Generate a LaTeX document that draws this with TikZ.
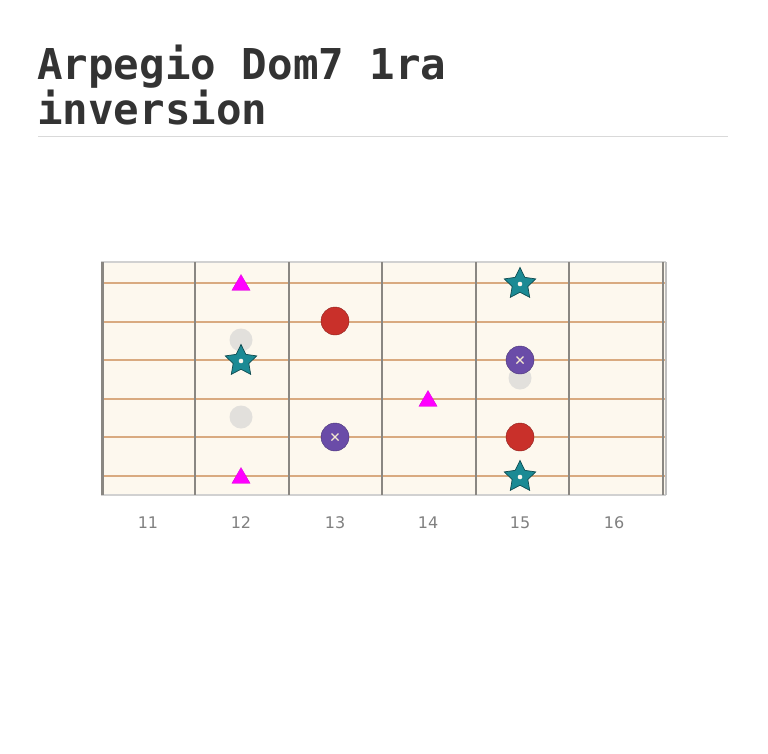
\documentclass[tikz,border=0pt]{standalone}
\usepackage{fontspec}
\setmonofont{DejaVu Sans Mono}
\setsansfont{DejaVu Sans}
\usetikzlibrary{shapes.geometric}

\definecolor{board}{HTML}{FDF8EE}
\definecolor{wire}{HTML}{D9AA80}
\definecolor{fretgray}{HTML}{8A8782}
\definecolor{rootred}{HTML}{C9302A}
\definecolor{sevpurple}{HTML}{6A4CA8}
\definecolor{fifteal}{HTML}{1B8A94}
\definecolor{inlay}{HTML}{E2E0DC}
\definecolor{thirdpink}{HTML}{FF00FF}
\definecolor{crosscol}{HTML}{F4E9CF}

\tikzset{
    triad/.style={regular polygon, regular polygon sides=3, fill=thirdpink, draw=thirdpink!85!black, line width=0.3pt, minimum size=21pt, inner sep=0pt},
    fifth/.style={star, star points=5, star point ratio=2, fill=fifteal, draw=fifteal!55!black, line width=0.7pt, minimum size=33pt, inner sep=0pt},
    root/.style={circle, fill=rootred, draw=rootred!70!black, line width=0.4pt, minimum size=28pt, inner sep=0pt},
    seventh/.style={circle, fill=sevpurple, draw=sevpurple!70!black, line width=0.4pt, minimum size=28pt, inner sep=0pt},
    dot/.style={circle, fill=inlay, minimum size=23pt, inner sep=0pt},
    fretnum/.style={font=\sffamily\fontsize{16}{16}\selectfont, text=gray}
}

\begin{document}
\begin{tikzpicture}[x=1pt, y=-1pt]
    \pgfmathsetmacro\l{101};
    \pgfmathsetmacro\r{666};
    \pgfmathsetmacro\t{262};
    \pgfmathsetmacro\b{495};
    \pgfmathsetmacro\s{38.6};

    \fill[white] (0, 0) rectangle (768, 753);
    \useasboundingbox (0, 0) rectangle (768, 753);

    % title
    \node[anchor=base west, inner sep=0pt, text=black!80, font=\ttfamily\bfseries\fontsize{42.5}{45}\selectfont] (title1) at (37, 79) {Arpegio Dom7 1ra};
    \node[anchor=base west, inner sep=0pt, text=black!80, font=\ttfamily\bfseries\fontsize{42.5}{45}\selectfont] (title2) at (37, 124) {inversion};
    \draw[black!15, line width=1pt] (38, 136) -- (728, 136);

    % board
    \fill[board] (\l, \t) rectangle (\r, \b);
    \draw[black!18, line width=1.2pt] (\l, \t) -- (\r, \t);
    \draw[black!18, line width=1.2pt] (\l, \b) -- (\r, \b);
    \foreach \i in {1, ..., 6}
        \draw[wire, line width=2pt] (\l, {283 + (\i - 1) * \s}) -- (\r, {283 + (\i - 1) * \s});
    \foreach \x in {195, 289, 382, 476, 569}
        \draw[fretgray, line width=2pt] (\x, \t) -- (\x, \b);
    \draw[fretgray, line width=3pt] (\l + 1, \t) -- (\l + 1, \b);
    \draw[fretgray, line width=2pt] (\r - 3, \t) -- (\r - 3, \b);
    \draw[black!25, line width=1.5pt] (\r, \t) -- (\r, \b);

    % inlays
    \node[dot] (in12a) at (241, 340) {};
    \node[dot] (in12b) at (241, 417) {};
    \node[dot] (in15) at (520, 378) {};

    % notes
    \node[triad] (t1) at (241, 285) {};
    \node[triad] (t2) at (241, 478) {};
    \node[triad] (t3) at (428, 401) {};
    \node[fifth] (f1) at (241, 361) {};
    \node[fifth] (f2) at (520, 284) {};
    \node[fifth] (f3) at (520, 477) {};
    \node[root] (r1) at (335, 321) {};
    \node[root] (r2) at (520, 437) {};
    \node[seventh] (v1) at (335, 437) {};
    \node[seventh] (v2) at (520, 360) {};
    \foreach \n in {f1, f2, f3}
        \fill[board] (\n.center) circle (2.3);
    \foreach \n in {v1, v2} {
        \draw[crosscol, line width=1.3pt] ([shift={(-3.5, -3.5)}]\n.center) -- ([shift={(3.5, 3.5)}]\n.center);
        \draw[crosscol, line width=1.3pt] ([shift={(-3.5, 3.5)}]\n.center) -- ([shift={(3.5, -3.5)}]\n.center);
    }

    % fret numbers
    \node[fretnum] (n11) at (148, 523) {11};
    \node[fretnum] (n12) at (241, 523) {12};
    \node[fretnum] (n13) at (335, 523) {13};
    \node[fretnum] (n14) at (428, 523) {14};
    \node[fretnum] (n15) at (520, 523) {15};
    \node[fretnum] (n16) at (614, 523) {16};
\end{tikzpicture}
\end{document}
